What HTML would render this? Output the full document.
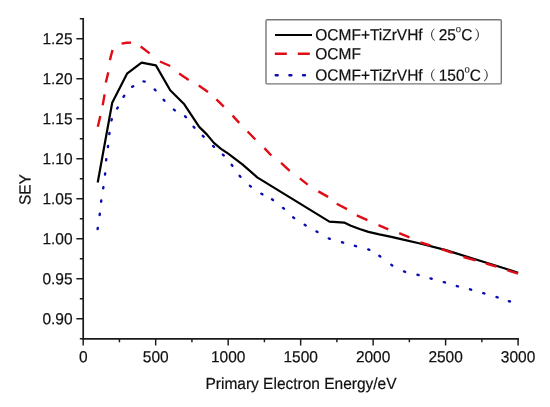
<!DOCTYPE html>
<html><head><meta charset="utf-8"><style>
html,body{margin:0;padding:0;background:#fff;}
body{width:550px;height:407px;overflow:hidden;}
svg{display:block;}
text{font-family:"Liberation Sans",Arial,sans-serif;fill:#111;stroke:#111;stroke-width:0.2px;}
.t{font-size:15.5px;}
.ti{font-size:15.5px;}
.lg{font-size:15.5px;}
.cj{font-family:"Noto Serif CJK SC","Liberation Sans",serif;font-size:12.5px;fill:#1a1a1a;stroke:#1a1a1a;stroke-width:0.15px;}
.sup{font-size:9.5px;stroke-width:0.05px;}
</style></head><body>
<svg width="550" height="407" viewBox="0 0 550 407">
<rect width="550" height="407" fill="#fff"/>
<path d="M83.2 18.8V338.8H518.1" fill="none" stroke="#1a1a1a" stroke-width="1.7" stroke-linecap="square"/>
<path d="M83.2 338.80h-3.4M83.2 318.80h-6.8M83.2 298.80h-3.4M83.2 278.80h-6.8M83.2 258.80h-3.4M83.2 238.80h-6.8M83.2 218.80h-3.4M83.2 198.80h-6.8M83.2 178.80h-3.4M83.2 158.80h-6.8M83.2 138.80h-3.4M83.2 118.80h-6.8M83.2 98.80h-3.4M83.2 78.80h-6.8M83.2 58.80h-3.4M83.2 38.80h-6.8M83.2 18.80h-3.4M83.20 338.8v6.8M119.44 338.8v3.4M155.68 338.8v6.8M191.93 338.8v3.4M228.17 338.8v6.8M264.41 338.8v3.4M300.65 338.8v6.8M336.89 338.8v3.4M373.13 338.8v6.8M409.38 338.8v3.4M445.62 338.8v6.8M481.86 338.8v3.4M518.10 338.8v6.8" fill="none" stroke="#1a1a1a" stroke-width="1.45"/>
<text transform="translate(72.60 324.30) rotate(0.05) scale(1 1.04)" text-anchor="end" class="t">0.90</text>
<text transform="translate(72.60 284.30) rotate(0.05) scale(1 1.04)" text-anchor="end" class="t">0.95</text>
<text transform="translate(72.60 244.30) rotate(0.05) scale(1 1.04)" text-anchor="end" class="t">1.00</text>
<text transform="translate(72.60 204.30) rotate(0.05) scale(1 1.04)" text-anchor="end" class="t">1.05</text>
<text transform="translate(72.60 164.30) rotate(0.05) scale(1 1.04)" text-anchor="end" class="t">1.10</text>
<text transform="translate(72.60 124.30) rotate(0.05) scale(1 1.04)" text-anchor="end" class="t">1.15</text>
<text transform="translate(72.60 84.30) rotate(0.05) scale(1 1.04)" text-anchor="end" class="t">1.20</text>
<text transform="translate(72.60 44.30) rotate(0.05) scale(1 1.04)" text-anchor="end" class="t">1.25</text>
<text transform="translate(83.20 362.30) rotate(0.05) scale(1 1.04)" text-anchor="middle" class="t">0</text>
<text transform="translate(155.68 362.30) rotate(0.05) scale(1 1.04)" text-anchor="middle" class="t">500</text>
<text transform="translate(228.17 362.30) rotate(0.05) scale(1 1.04)" text-anchor="middle" class="t">1000</text>
<text transform="translate(300.65 362.30) rotate(0.05) scale(1 1.04)" text-anchor="middle" class="t">1500</text>
<text transform="translate(373.13 362.30) rotate(0.05) scale(1 1.04)" text-anchor="middle" class="t">2000</text>
<text transform="translate(445.62 362.30) rotate(0.05) scale(1 1.04)" text-anchor="middle" class="t">2500</text>
<text transform="translate(518.10 362.30) rotate(0.05) scale(1 1.04)" text-anchor="middle" class="t">3000</text>
<text transform="translate(301.00 389.00) rotate(0.05) scale(1 1.04)" text-anchor="middle" class="ti">Primary Electron Energy/eV</text>
<text transform="translate(30.5 189.6) rotate(-89.95) scale(1 1.04)" text-anchor="middle" class="ti">SEY</text>
<polyline points="97.7,182.5 112.2,102.8 127.0,73.7 141.6,62.6 155.9,65.4 170.2,90.2 184.3,104.3 199.2,126.9 206.8,134.4 213.9,142.9 221,148.8 228.2,153.6 242.7,164.6 257.2,177.4 329.4,221.6 344.1,222.6 350.9,225.7 359.6,229.0 368.4,231.9 379.3,234.4 390.2,236.6 400,238.9 420,243.5 445,249.9 505,268.5 518.1,272.9" fill="none" stroke="#000" stroke-width="2.2" stroke-linejoin="round"/>
<path d="M97.8 126.8L100.3 116M102.7 105.2L104.6 94.4M105.8 82.5L108.3 72.4M109.9 60.1L112.5 50M121.5 43.6L126.7 42.8L131.1 42.6M140.7 46.5L149.6 53.4M159.9 61.5L170.2 66M179.1 73.6L188.7 80M198.7 85.6L208 92M216.4 99.3L223.8 106.7M232.6 115.6L239.2 122.9M247.6 131.5L255.3 139.5M264.4 148.1L271.3 155.5M281.1 162.8L289.7 170.9M299.8 178.4L307.7 184.6M318.3 191.4L328.1 196.9M336.7 203.7L347 209.1M356.8 215.3L367.4 220.2M378.5 225.1L388.3 229.3M399.2 233.2L409.5 237.3M420.5 242.3L430.4 245.5M441.4 249.1L452.5 252.8M463.5 257L475.5 260.3M486 263.5L496.5 266.6M507 270.2L518.1 273.6" fill="none" stroke="#e00c16" stroke-width="2.4" stroke-linejoin="round"/>
<path d="M97.62 229.09L97.78 227.91M99.62 215.00L99.78 213.80M101.12 201.69L101.28 200.51M103.21 188.39L103.39 187.21M105.04 174.60L105.16 173.40M106.14 160.40L106.26 159.20M107.93 147.10L108.07 145.90M109.32 134.09L109.48 132.91M111.42 120.37L111.78 119.23M117.22 108.53L117.78 107.47M123.55 96.69L124.25 95.71M132.21 86.85L133.19 86.15M143.51 81.41L144.69 81.59M154.66 89.49L155.54 90.31M163.58 99.77L164.42 100.63M173.92 109.63L174.88 110.37M185.05 116.30L185.95 117.10M193.60 126.76L194.40 127.64M202.77 135.78L203.63 136.62M213.06 145.99L213.94 146.81M222.88 154.57L223.72 155.43M231.63 164.83L232.37 165.77M239.60 175.85L240.40 176.75M249.93 185.82L250.87 186.58M261.39 193.69L262.41 194.31M272.00 199.37L273.00 200.03M283.04 207.91L283.96 208.69M293.23 217.33L294.17 218.07M304.69 224.79L305.71 225.41M316.48 231.41L317.52 231.99M328.75 238.37L329.85 238.83M342.02 242.24L343.18 242.56M354.92 245.84L356.08 246.16M368.25 249.37L369.35 249.83M379.30 255.86L380.30 256.54M391.29 264.78L392.31 265.42M404.04 271.49L405.16 271.91M417.52 274.75L418.68 275.05M430.52 278.44L431.68 278.76M443.82 282.13L444.98 282.47M456.82 286.04L457.98 286.36M470.02 289.34L471.18 289.66M483.22 293.13L484.38 293.47M496.53 297.02L497.67 297.38M508.83 301.11L509.97 301.49" fill="none" stroke="#0c0cb0" stroke-width="2.4" stroke-linecap="round"/>
<rect x="266" y="19.8" width="235.3" height="64.1" rx="1.2" fill="none" stroke="#777" stroke-width="1.4"/>
<path d="M275 34.95H312" stroke="#000" stroke-width="2"/>
<path d="M274.8 53.8H286.8M297.8 53.8H309.8" stroke="#e00c16" stroke-width="2.4"/>
<path d="M275.8 75.3h1.8M289.5 75.3h1.8M303.1 75.3h1.8" stroke="#0c0cb0" stroke-width="2.6" stroke-linecap="round"/>
<text transform="translate(315.30 40.20) rotate(0.05) scale(1 1.04)" class="lg">OCMF+TiZrVHf<tspan class="cj" dx="0.3" dy="-0.7">（</tspan><tspan dx="3.2" dy="0.7">25</tspan><tspan class="sup" dy="-7.8" dx="-0.1">o</tspan><tspan dy="7.8" dx="0.1">C</tspan><tspan class="cj" dx="2.2" dy="-0.7">）</tspan></text>
<text transform="translate(315.30 59.20) rotate(0.05) scale(1 1.04)" class="lg">OCMF</text>
<text transform="translate(315.30 80.60) rotate(0.05) scale(1 1.04)" class="lg">OCMF+TiZrVHf<tspan class="cj" dx="0.3" dy="-0.7">（</tspan><tspan dx="3.2" dy="0.7">150</tspan><tspan class="sup" dy="-7.8" dx="-0.1">o</tspan><tspan dy="7.8" dx="0.1">C</tspan><tspan class="cj" dx="2.2" dy="-0.7">）</tspan></text>
</svg>
</body></html>
